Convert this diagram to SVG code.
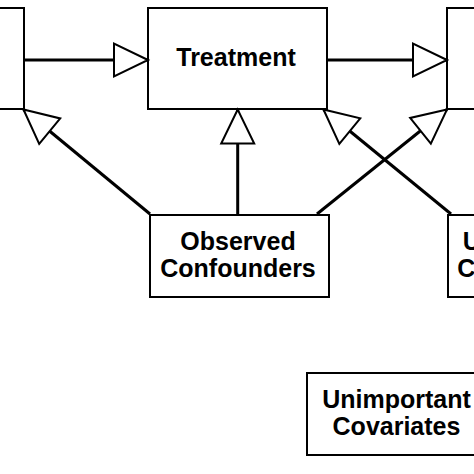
<svg xmlns="http://www.w3.org/2000/svg" width="474" height="474" viewBox="0 0 474 474">
<style>
.box{fill:#fff;stroke:#000;stroke-width:2}
.lbl{font-family:"Liberation Sans",Arial,Helvetica,sans-serif;font-weight:bold;font-size:25px;fill:#000;text-anchor:middle}
.edge{stroke:#000;stroke-width:3;fill:none}
</style>
<defs>
<marker id="tri" markerUnits="userSpaceOnUse" markerWidth="40" markerHeight="40" refX="0" refY="0" orient="auto" overflow="visible">
<path d="M0,0 L-34,-16.5 L-34,16.5 Z" fill="#fff" stroke="#000" stroke-width="2" stroke-linejoin="miter"/>
</marker>
</defs>
<rect width="474" height="474" fill="#fff"/>
<g id="node-left"><rect class="box" x="-157" y="8" width="181" height="101"/></g>
<g id="node-treatment"><rect class="box" x="148" y="8" width="179" height="101"/><text class="lbl" x="236" y="66">Treatment</text></g>
<g id="node-right"><rect class="box" x="447" y="8" width="181" height="101"/></g>
<g id="node-observed"><rect class="box" x="150" y="215" width="179" height="82"/><text class="lbl" x="238" y="250">Observed</text><text class="lbl" x="238" y="277">Confounders</text></g>
<g id="node-unobserved"><rect class="box" x="448" y="215" width="180" height="82"/><text class="lbl" x="535" y="250">Unobserved</text><text class="lbl" x="535" y="277">Confounders</text></g>
<g id="node-unimportant"><rect class="box" x="307" y="373" width="180" height="82"/><text class="lbl" x="396.5" y="408">Unimportant</text><text class="lbl" x="396.5" y="435">Covariates</text></g>
<g id="connectors">
<line class="edge" x1="24" y1="60" x2="148" y2="60" marker-end="url(#tri)"/>
<line class="edge" x1="327" y1="60" x2="447" y2="60" marker-end="url(#tri)"/>
<line class="edge" x1="237.7" y1="215" x2="237.7" y2="109.5" marker-end="url(#tri)"/>
<line class="edge" x1="150" y1="214" x2="23.5" y2="109.5" marker-end="url(#tri)"/>
<line class="edge" x1="317" y1="214" x2="447" y2="109.5" marker-end="url(#tri)"/>
<line class="edge" x1="451" y1="214" x2="323.5" y2="109.5" marker-end="url(#tri)"/>
</g>
</svg>
